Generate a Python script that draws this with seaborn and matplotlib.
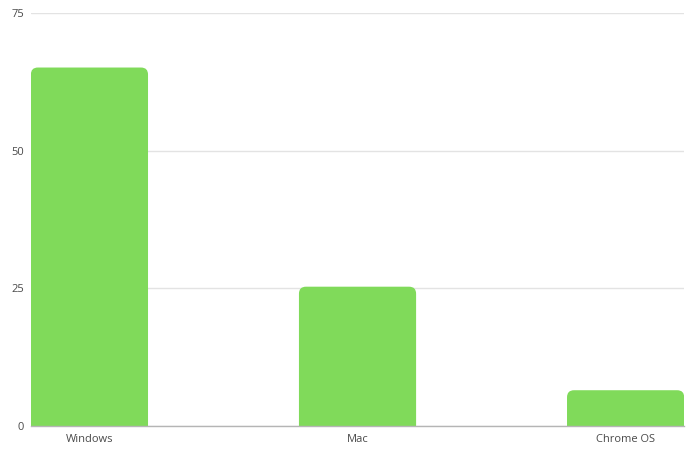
import seaborn as sns
import pandas as pd
import matplotlib
matplotlib.use("Agg")
import matplotlib.pyplot as plt
from matplotlib.patches import FancyBboxPatch

# data
platforms = ["Windows", "Mac", "Chrome OS"]
share = [65.1, 25.3, 6.5]
yticks = [0, 25, 50, 75]

df = pd.DataFrame({"platform": platforms, "share": share})

sns.set_style("white")
plt.rcParams["font.family"] = ["Open Sans", "DejaVu Sans"]

fig = plt.figure(figsize=(7, 4.5), dpi=100)
ax = fig.add_axes([0.0443, 0.0533, 0.9329, 0.9178])

bar_color = "#80DA5A"
sns.barplot(data=df, x="platform", y="share", color=bar_color,
            width=0.437, saturation=1, ax=ax)

ax.set_xlim(-0.218, 2.218)
ax.set_ylim(0, 75)

# swap the square bars for ones with rounded top corners
px_per_x = 0.9329 * 700 / (2.218 + 0.218)
px_per_y = 0.9178 * 450 / 75
radius = 7 / px_per_x
aspect = px_per_x / px_per_y
for p in list(ax.patches):
    x0, w, h = p.get_x(), p.get_width(), p.get_height()
    p.set_visible(False)
    ext = 3.0  # push the lower corners below the axis so only the top is rounded
    rb = FancyBboxPatch((x0, -ext), w, h + ext,
                        boxstyle=f"round,pad=0,rounding_size={radius}",
                        mutation_aspect=aspect,
                        facecolor=bar_color, edgecolor="none", zorder=2)
    ax.add_patch(rb)

ax.set_yticks(yticks)
ax.yaxis.grid(True, color="#e3e3e3", linewidth=1)
ax.set_axisbelow(True)
ax.set_xlabel("")
ax.set_ylabel("")
for side in ["top", "right", "left"]:
    ax.spines[side].set_visible(False)
ax.spines["bottom"].set_color("#b5b5b5")
ax.spines["bottom"].set_linewidth(1)
ax.spines["bottom"].set_zorder(3)
ax.tick_params(axis="both", length=0, labelsize=8, labelcolor="#4a4a4a")
ax.tick_params(axis="y", pad=5)
ax.tick_params(axis="x", pad=6)

fig.savefig("out.png", dpi=100)
